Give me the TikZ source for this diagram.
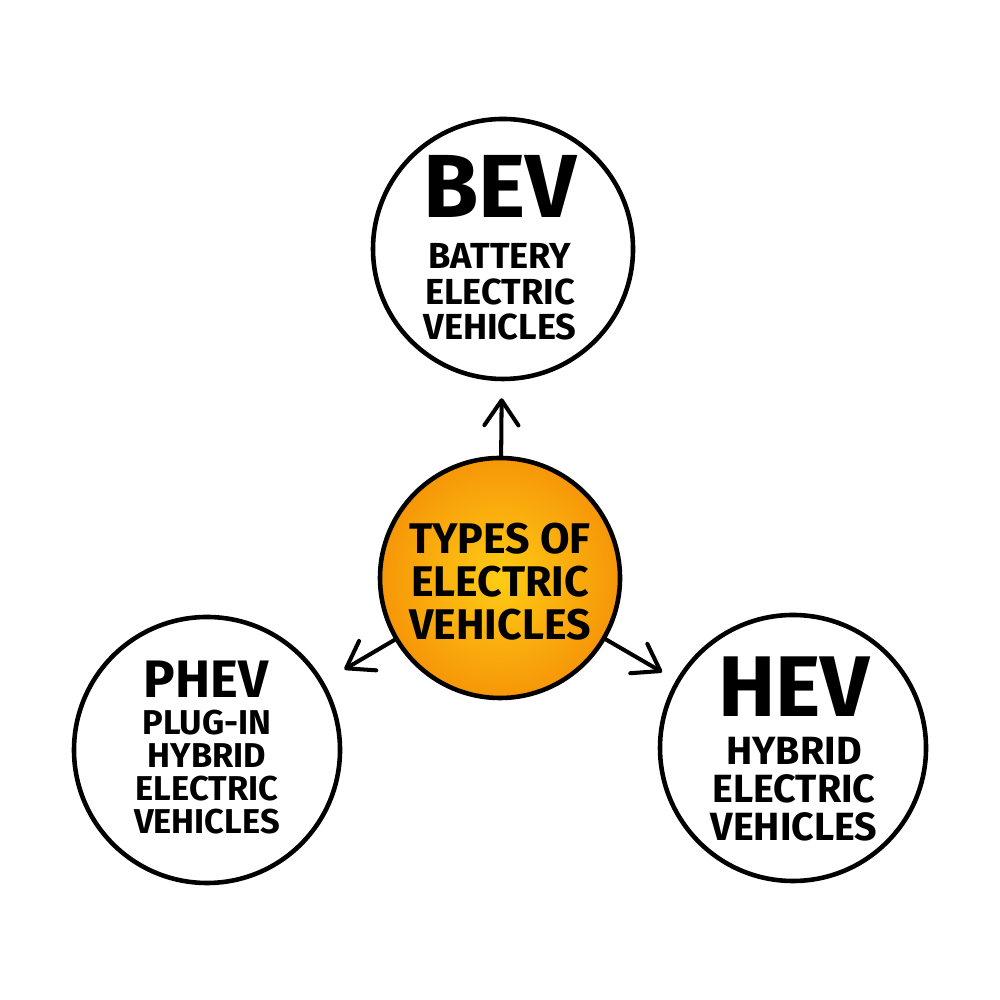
\documentclass[tikz,border=0pt]{standalone}
\usepackage{fontspec}
\setmainfont{Fira Sans}
\usetikzlibrary{arrows.meta}

\definecolor{coreinner}{RGB}{255,204,20}
\definecolor{coreouter}{RGB}{246,150,8}

\begin{document}
\begin{tikzpicture}[thick,
	bubble/.style={circle, draw, line width=1.3pt, inner sep=0pt, minimum size=#1},
	link/.style={line width=1.15pt, line cap=round, -{Straight Barb[length=2.5mm,width=3.4mm,line cap=round,line join=round]}},
	abbr/.style={font=\bfseries\fontsize{#1}{#1}\selectfont, anchor=base, inner sep=0pt},
	words/.style 2 args={font=\bfseries\fontsize{#1}{#2}\selectfont, align=center, inner sep=0pt}]
	% page
		\fill[white] (0,0) rectangle (10,10);
		\useasboundingbox (0,0) rectangle (10,10);
	% centre
		\node[bubble=2.4cm, shading=radial, inner color=coreinner, outer color=coreouter] (types) at (5.00,4.22) {};
		\node[words={12.2}{12.2}] (typestext) at (5.00,4.18) {TYPES OF\\ELECTRIC\\VEHICLES};
	% battery electric
		\node[bubble=2.6cm] (bev) at (5.03,7.51) {};
		\node[abbr=25.5] (bevtitle) at (5.00,7.82) {BEV};
		\node[words={10.3}{10.1}] (bevtext) at (5.00,7.08) {BATTERY\\ELECTRIC\\VEHICLES};
	% plug-in hybrid
		\node[bubble=2.66cm] (phev) at (2.07,2.50) {};
		\node[abbr=15] (phevtitle) at (2.06,3.02) {PHEV};
		\node[words={9.8}{9.4}] (phevtext) at (2.07,2.28) {PLUG-IN\\HYBRID\\ELECTRIC\\VEHICLES};
	% hybrid
		\node[bubble=2.66cm] (hev) at (7.93,2.52) {};
		\node[abbr=24.5] (hevtitle) at (7.94,2.83) {HEV};
		\node[words={11.2}{10.8}] (hevtext) at (7.94,2.11) {HYBRID\\ELECTRIC\\VEHICLES};
	% arrows
		\draw[link, shorten >=0.17cm] (types) -- (bev);
		\draw[link, shorten >=0.24cm] (types) -- (phev);
		\draw[link, shorten >=0.16cm] (types) -- (hev);
\end{tikzpicture}
\end{document}
